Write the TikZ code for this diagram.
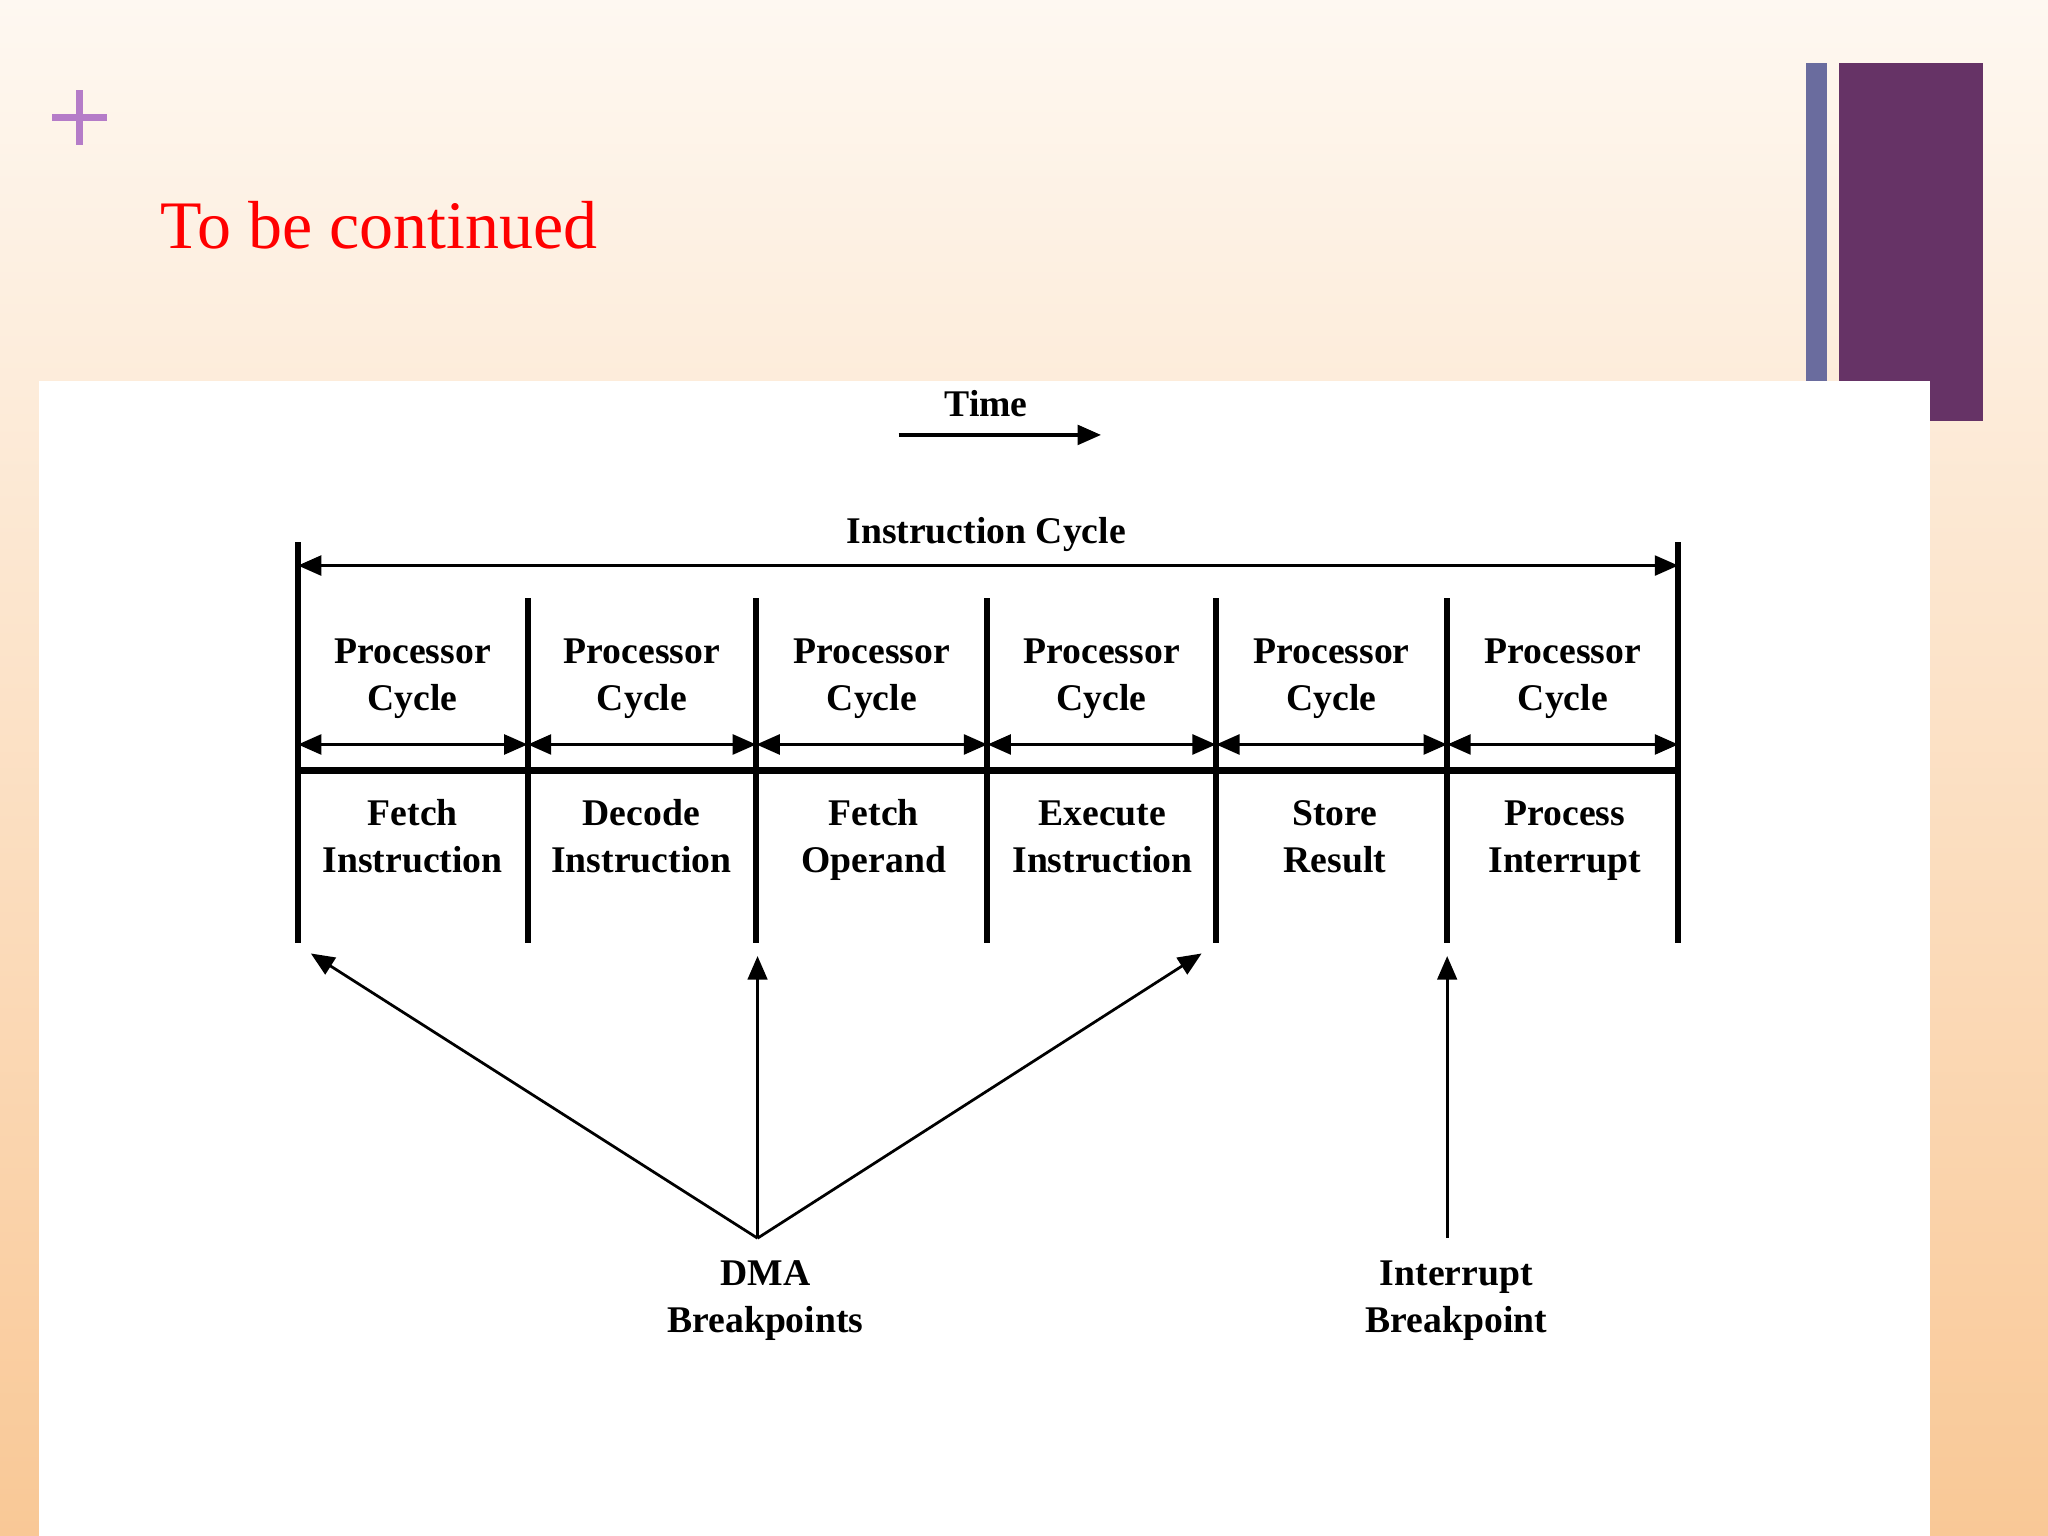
\documentclass[tikz,border=0pt]{standalone}
\usepackage{fontspec}
\setmainfont{Liberation Serif}
\usetikzlibrary{arrows.meta}
\definecolor{bgtop}{HTML}{FEF8F1}
\definecolor{bgbot}{HTML}{F9C896}
\definecolor{plusc}{HTML}{B57CC8}
\definecolor{barA}{HTML}{6A6C9E}
\definecolor{barB}{HTML}{663366}
\newcommand{\tl}[2]{\strut #1\\\strut #2}
\tikzset{
  tip/.style={-{Triangle[length=0.18cm,width=0.15cm]}},
  dtip/.style={{Triangle[length=0.18cm,width=0.15cm]}-{Triangle[length=0.18cm,width=0.15cm]}},
  lbl/.style={font=\bfseries\fontsize{8.2}{10.3}\selectfont, align=center, inner sep=0pt},
  vline/.style={line width=1.3pt},
}
\begin{document}
\begin{tikzpicture}[x=0.01cm,y=-0.01cm]
\useasboundingbox (0,0) rectangle (1568,1176);
\shade[top color=bgtop, bottom color=bgbot] (0,0) rectangle (1568,1176);
\draw[plusc, line width=1.5pt] (40,90) -- (82,90) (61,69) -- (61,111);
\node[anchor=base west, text=red, font=\fontsize{14.8}{18}\selectfont, inner sep=0pt] (title) at (122,190) {To be continued};
\fill[barA] (1383,48) rectangle (1399,292);
\fill[barB] (1408,48) rectangle (1518,322);
\fill[white] (30,292) rectangle (1478,1176);
% time
\node[lbl] (time) at (755,309) {Time};
\coordinate (t1) at (688,333); \coordinate (t2) at (843,333);
\draw[tip, line width=0.8pt] (t1) -- (t2);
% instruction cycle
\node[lbl] (ic) at (755,409) {Instruction Cycle};
\coordinate (ia) at (228,433); \coordinate (ib) at (1285,433);
\draw[dtip, line width=0.8pt] (ia) -- (ib);
\draw[vline] (228,415) -- (228,722);
\draw[vline] (1285,415) -- (1285,722);
\foreach \x in {404,579,756,931,1108} \draw[vline] (\x,458) -- (\x,722);
\draw[line width=1.5pt] (228,590) -- (1285,590);
\foreach \a/\b/\n in {228/404/1,404/579/2,579/756/3,756/931/4,931/1108/5,1108/1285/6}{
  \node[lbl] (pc\n) at ({(\a+\b)/2},519) {\tl{Processor}{Cycle}};
  \coordinate (pa\n) at (\a,570); \coordinate (pb\n) at (\b,570);
  \draw[dtip, line width=0.8pt] (pa\n) -- (pb\n);
}
\node[lbl] (s1) at (316,643) {\tl{Fetch}{Instruction}};
\node[lbl] (s2) at (491,643) {\tl{Decode}{Instruction}};
\node[lbl] (s3) at (669,643) {\tl{Fetch}{Operand}};
\node[lbl] (s4) at (844,643) {\tl{Execute}{Instruction}};
\node[lbl] (s5) at (1022,643) {\tl{Store}{Result}};
\node[lbl] (s6) at (1198,643) {\tl{Process}{Interrupt}};
% breakpoints
\node[lbl] (dma) at (586,995) {\tl{DMA}{Breakpoints}};
\node[lbl] (intr) at (1115,995) {\tl{Interrupt}{Breakpoint}};
\coordinate (d0) at (580,948);
\coordinate (da) at (238,730); \coordinate (db) at (580,732); \coordinate (dc) at (920,730);
\coordinate (i0) at (1108,948); \coordinate (ia2) at (1108,732);
\draw[tip, line width=0.6pt] (d0) -- (da);
\draw[tip, line width=0.6pt] (d0) -- (db);
\draw[tip, line width=0.6pt] (d0) -- (dc);
\draw[tip, line width=0.6pt] (i0) -- (ia2);
\end{tikzpicture}
\end{document}
